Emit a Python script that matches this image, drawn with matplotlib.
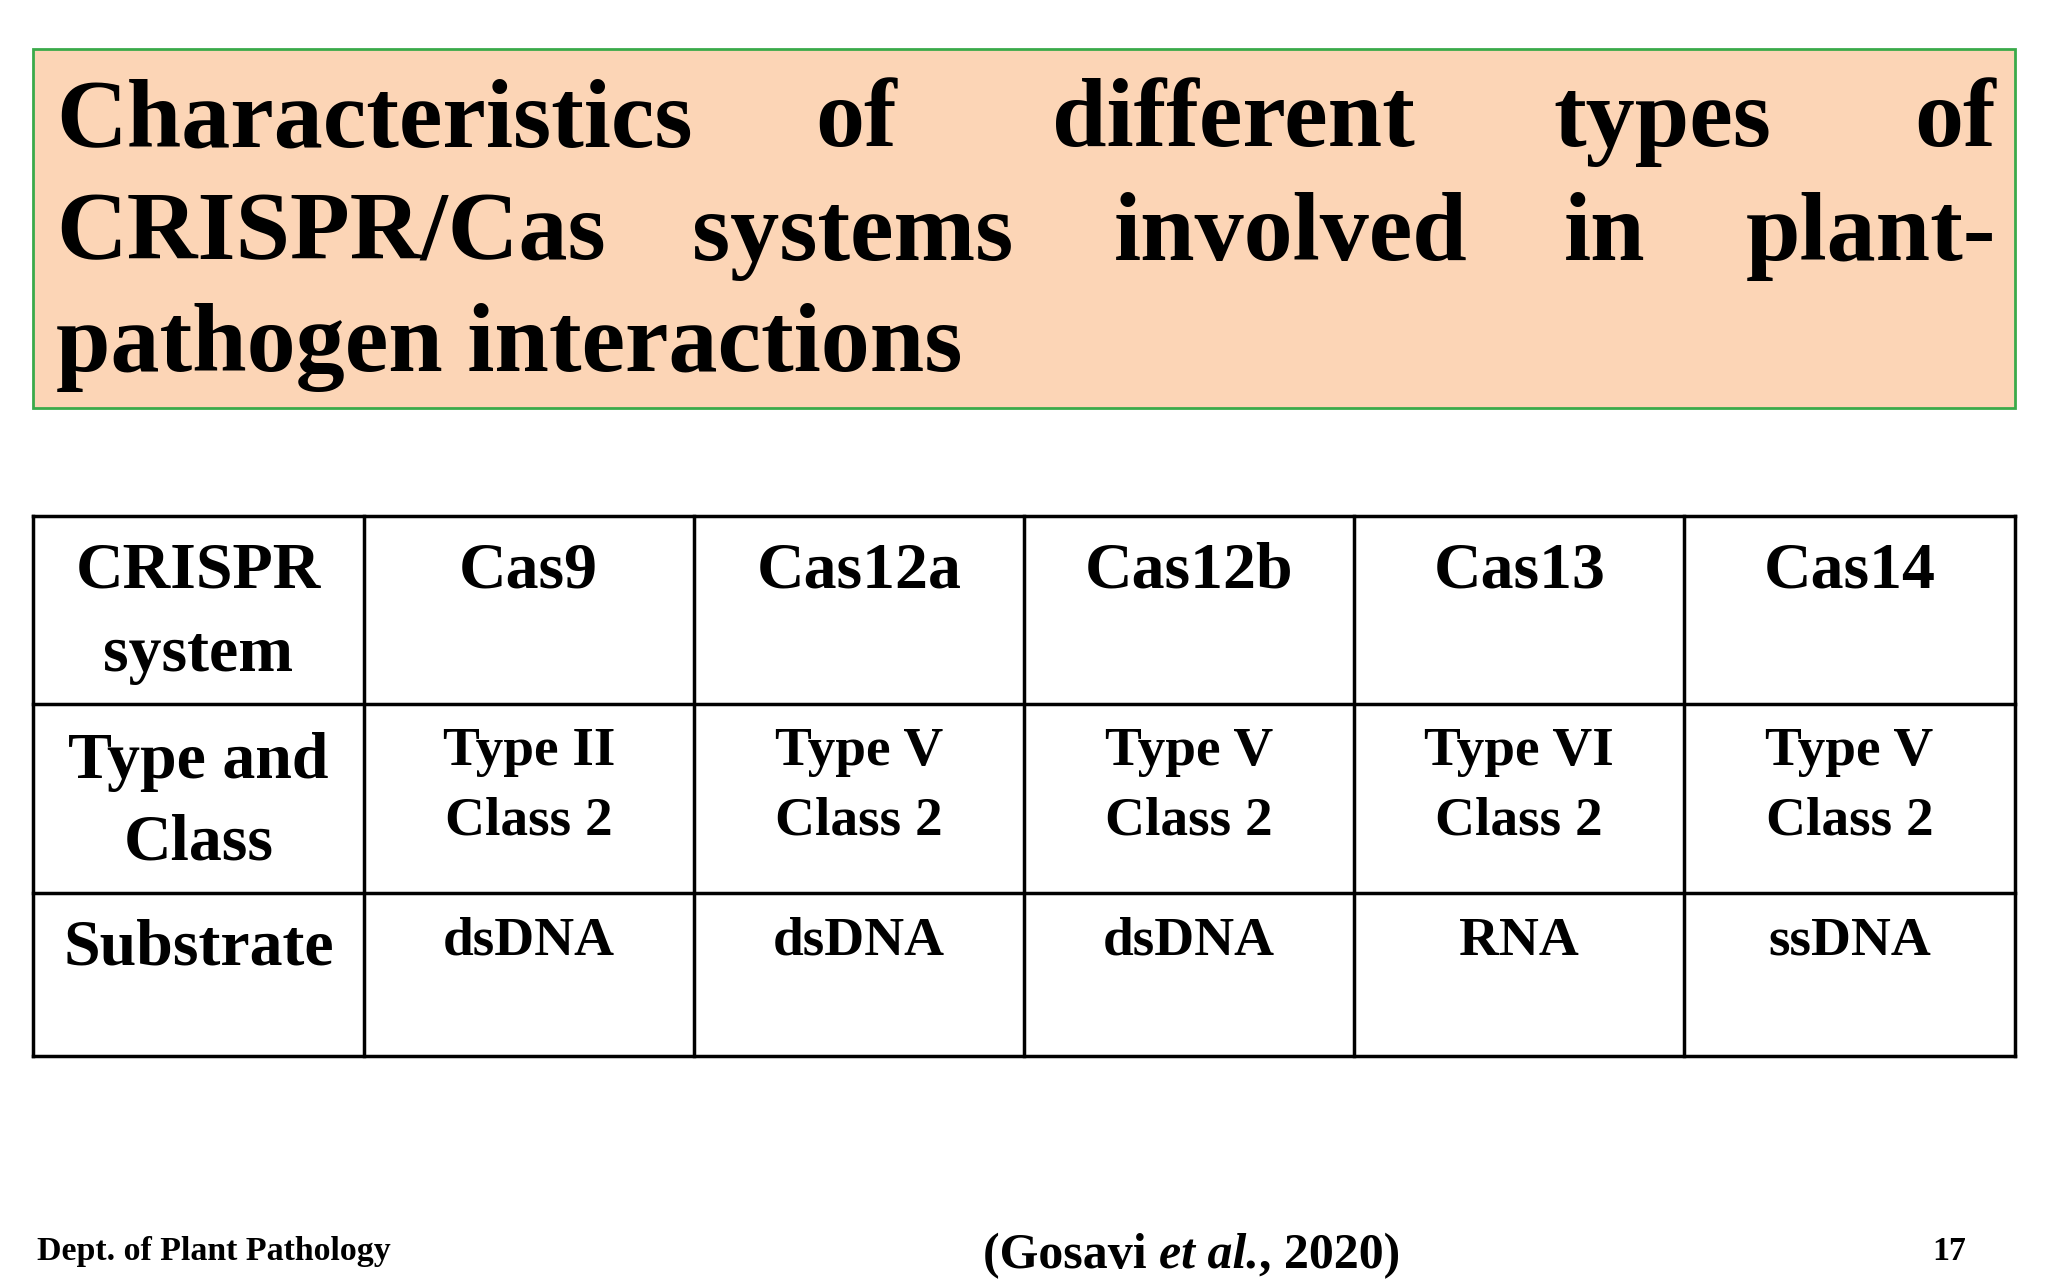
import matplotlib.pyplot as plt
from matplotlib.patches import Rectangle

# layout is laid out in reference-image coordinates (1532 x 958 view)
W, H = 1532, 958
S = 2048 / W

def pt(cap_px):
    # cap height in view pixels -> font size in points at dpi 100
    return cap_px * S / 0.66 * 0.72 * 0.88

title_lines = [
    [("Characteristics", 42, "left"), ("of", 610, "left"), ("different", 787, "left"),
     ("types", 1162, "left"), ("of", 1493, "right")],
    [("CRISPR/Cas", 42, "left"), ("systems", 518, "left"), ("involved", 833, "left"),
     ("in", 1170, "left"), ("plant-", 1493, "right")],
    [("pathogen interactions", 42, "left")],
]
title_y = [92, 177, 260]

systems = ["Cas9", "Cas12a", "Cas12b", "Cas13", "Cas14"]
types = ["Type II", "Type V", "Type V", "Type VI", "Type V"]
classes = ["Class 2", "Class 2", "Class 2", "Class 2", "Class 2"]
substrates = ["dsDNA", "dsDNA", "dsDNA", "RNA", "ssDNA"]

col_edges = [25, 272, 519, 766, 1013, 1260, 1507]
row_edges = [386, 527, 668, 790]

plt.rcParams['font.family'] = ['Liberation Serif', 'DejaVu Serif']
fig = plt.figure(figsize=(20.48, 12.8), dpi=100)
ax = fig.add_axes([0, 0, 1, 1])
ax.set_xlim(0, W)
ax.set_ylim(H, 0)
ax.axis("off")

ax.add_patch(Rectangle((25, 37), 1482, 268, facecolor="#fcd5b6",
                       edgecolor="#3aaa4a", linewidth=2))
for line, y in zip(title_lines, title_y):
    for word, x, ha in line:
        ax.text(x, y, word, ha=ha, va="center", fontsize=pt(55),
                fontweight="bold", color="black")

# table grid
for x in col_edges:
    ax.plot([x, x], [row_edges[0], row_edges[-1]], color="black", lw=2.5)
for y in row_edges:
    ax.plot([col_edges[0], col_edges[-1]], [y, y], color="black", lw=2.5)

def centre(i):
    return (col_edges[i] + col_edges[i + 1]) / 2

bold = dict(ha="center", va="center", fontweight="bold", color="black")
ax.text(centre(0), 428, "CRISPR", fontsize=pt(37), **bold)
ax.text(centre(0), 490, "system", fontsize=pt(37), **bold)
ax.text(centre(0), 570, "Type and", fontsize=pt(37), **bold)
ax.text(centre(0), 631, "Class", fontsize=pt(37), **bold)
ax.text(centre(0), 710, "Substrate", fontsize=pt(37), **bold)

for i, (s, t, c, sub) in enumerate(zip(systems, types, classes, substrates), start=1):
    ax.text(centre(i), 428, s, fontsize=pt(37), **bold)
    ax.text(centre(i), 563, t, fontsize=pt(31), **bold)
    ax.text(centre(i), 615, c, fontsize=pt(31), **bold)
    ax.text(centre(i), 705, sub, fontsize=pt(31), **bold)

ax.text(28, 937, "Dept. of Plant Pathology", ha="left", va="center",
        fontsize=pt(19), fontweight="bold")
cite = dict(va="center", fontsize=pt(28), fontweight="bold", color="black")
ax.text(867, 940, "(Gosavi ", ha="right", **cite)
ax.text(867, 940, "et al.", ha="left", style="italic", **cite)
ax.text(942, 940, ", 2020)", ha="left", **cite)
ax.text(1458, 937, "17", ha="center", va="center", fontsize=pt(19), fontweight="bold")

fig.savefig("out.png", dpi=100, facecolor="white")
